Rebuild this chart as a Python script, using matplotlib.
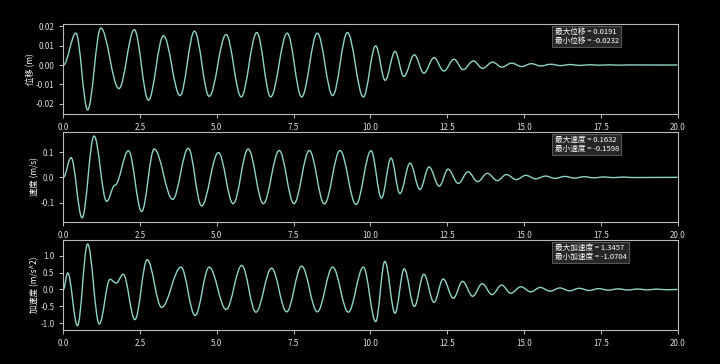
import numpy as np
import matplotlib.pyplot as plt
from matplotlib.path import Path
from matplotlib.patches import PathPatch
from matplotlib.ticker import MultipleLocator

# 位移 / 速度 / 加速度 的极值点 (时间 s, 数值)
disp_t = [0.00, 0.41, 0.79, 1.22, 1.81, 2.31, 2.77, 3.26, 3.80, 4.27, 4.75, 5.30, 5.79, 6.30, 6.75,
          7.29, 7.76, 8.27, 8.77, 9.25, 9.77, 10.17, 10.48, 10.80, 11.09, 11.43, 11.74, 12.07, 12.39,
          12.72, 13.02, 13.35, 13.65, 13.98, 14.28, 14.60, 14.92, 15.24, 15.55, 15.87, 16.19, 16.50,
          16.82, 17.14, 17.45, 17.77, 18.09, 18.40, 20.00]
disp_v = [0.0, 0.0165, -0.0232, 0.0191, -0.0122, 0.0183, -0.0182, 0.0151, -0.0158, 0.0175, -0.0162,
          0.0158, -0.0165, 0.0168, -0.0165, 0.0165, -0.0165, 0.0165, -0.0158, 0.0168, -0.0165, 0.0099,
          -0.0079, 0.0070, -0.0059, 0.0053, -0.0042, 0.0038, -0.0031, 0.0030, -0.0024, 0.0021, -0.0017,
          0.0015, -0.0011, 0.0010, -0.0008, 0.0007, -0.0005, 0.0004, -0.0003, 0.00025, -0.0002, 0.00015,
          -0.0001, 0.0001, -0.00007, 0.00005, 0.0]

vel_t = [0.00, 0.25, 0.61, 1.00, 1.41, 1.68, 2.12, 2.55, 2.96, 3.56, 4.07, 4.50, 5.05, 5.53, 6.02,
         6.51, 7.03, 7.51, 8.01, 8.50, 9.01, 9.53, 10.02, 10.36, 10.67, 10.96, 11.29, 11.61, 11.91,
         12.24, 12.53, 12.86, 13.18, 13.49, 13.81, 14.13, 14.43, 14.75, 15.06, 15.38, 15.70, 16.01,
         16.33, 16.65, 16.96, 17.28, 17.60, 17.91, 18.23, 18.55, 20.00]
vel_v = [0.0, 0.078, -0.1598, 0.1632, -0.095, -0.031, 0.105, -0.135, 0.112, -0.087, 0.115, -0.113,
         0.098, -0.104, 0.112, -0.104, 0.106, -0.104, 0.106, -0.105, 0.106, -0.107, 0.105, -0.082,
         0.076, -0.064, 0.056, -0.048, 0.041, -0.035, 0.032, -0.024, 0.022, -0.017, 0.016, -0.013,
         0.011, -0.009, 0.008, -0.006, 0.005, -0.004, 0.0035, -0.003, 0.0025, -0.002, 0.0015, -0.0012,
         0.001, -0.0008, 0.0]

acc_t = [0.00, 0.14, 0.46, 0.79, 1.17, 1.52, 1.72, 1.95, 2.33, 2.73, 3.20, 3.83, 4.29, 4.75, 5.30,
         5.81, 6.27, 6.78, 7.27, 7.76, 8.27, 8.77, 9.28, 9.77, 10.17, 10.47, 10.80, 11.10, 11.43,
         11.74, 12.07, 12.37, 12.70, 13.00, 13.33, 13.64, 13.96, 14.27, 14.57, 14.90, 15.22, 15.53,
         15.85, 16.17, 16.48, 16.80, 17.12, 17.43, 17.75, 18.07, 18.38, 18.70, 19.02, 19.33, 19.65, 20.00]
acc_v = [0.0, 0.49, -1.0704, 1.3457, -1.02, 0.30, 0.19, 0.45, -0.89, 0.88, -0.53, 0.66, -0.77, 0.66,
         -0.59, 0.71, -0.67, 0.63, -0.66, 0.69, -0.66, 0.66, -0.67, 0.66, -0.95, 0.83, -0.70, 0.61,
         -0.50, 0.45, -0.38, 0.31, -0.26, 0.24, -0.20, 0.17, -0.15, 0.13, -0.11, 0.08, -0.07, 0.06,
         -0.05, 0.045, -0.04, 0.035, -0.03, 0.025, -0.02, 0.018, -0.015, 0.013, -0.011, 0.01, -0.008, 0.0]

ylabels = ['位移 (m)', '速度 (m/s)', '加速度 (m/s^2)']
names = ['位移', '速度', '加速度']
ytick_steps = [0.01, 0.1, 0.5]

plt.style.use('dark_background')
plt.rcParams['font.family'] = ['Noto Sans CJK SC', 'DejaVu Sans']
plt.rcParams['axes.unicode_minus'] = False


def smooth_line(ax, t, v, **kw):
    # 极值点之间用水平切线的三次贝塞尔曲线连接
    verts = [(t[0], v[0])]
    codes = [Path.MOVETO]
    for i in range(1, len(t)):
        dt = t[i] - t[i - 1]
        verts += [(t[i - 1] + 0.363 * dt, v[i - 1]), (t[i] - 0.363 * dt, v[i]), (t[i], v[i])]
        codes += [Path.CURVE4] * 3
    ax.add_patch(PathPatch(Path(verts, codes), fill=False, **kw))


fig, axes = plt.subplots(3, 1, figsize=(7.2, 3.64), dpi=100)
fig.subplots_adjust(left=0.088, right=0.941, top=0.934, bottom=0.094, hspace=0.2)

series = [(disp_t, disp_v), (vel_t, vel_v), (acc_t, acc_v)]
for ax, (t, v), yl, nm, st in zip(axes, series, ylabels, names, ytick_steps):
    smooth_line(ax, t, v, edgecolor='#8dd3c7', lw=1.0)
    ax.autoscale_view()
    ax.set_xlim(0, 20)
    ax.yaxis.set_major_locator(MultipleLocator(st))
    ax.set_ylabel(yl, fontsize=6, labelpad=0.5)
    ax.tick_params(labelsize=5.8, length=3, width=0.6, colors='#dddddd')
    for s in ax.spines.values():
        s.set_color('#bbbbbb')
        s.set_linewidth(0.8)
    txt = f'最大{nm} = {max(v):.4f}\n最小{nm} = {min(v):.4f}'
    ax.text(0.8, 0.955, txt, transform=ax.transAxes, va='top', ha='left', fontsize=5.5,
            color='white', linespacing=1.15,
            bbox=dict(boxstyle='square,pad=0.3', facecolor='#262626', edgecolor='#555555', lw=0.8))

fig.savefig('out.png', facecolor='black')
